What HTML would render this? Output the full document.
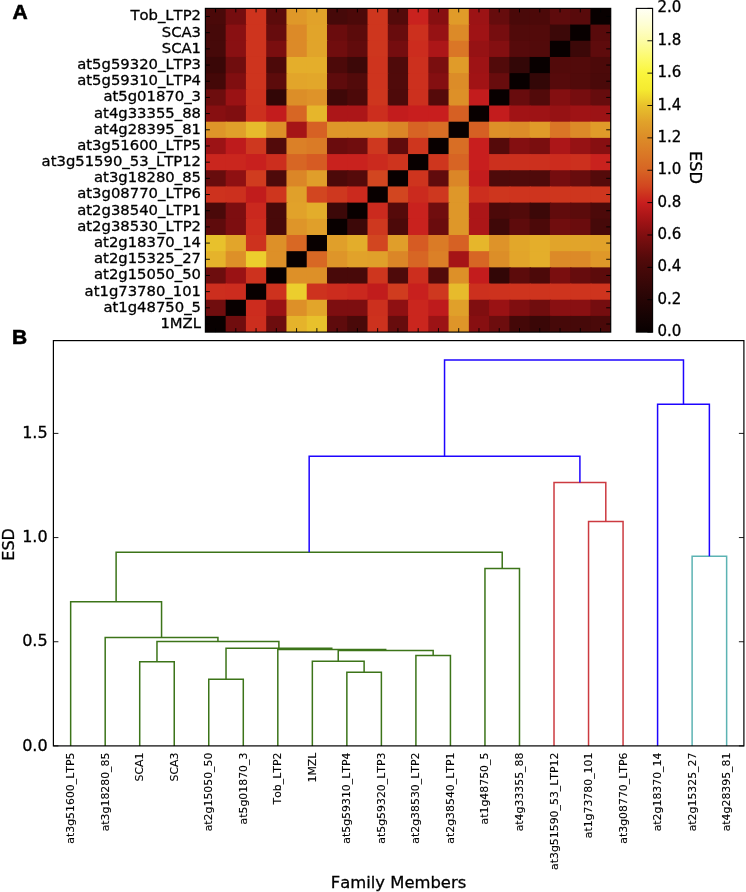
<!DOCTYPE html><html><head><meta charset="utf-8"><style>html,body{margin:0;padding:0;background:#fff;}svg{display:block;}text{font-family:"DejaVu Sans","Liberation Sans",sans-serif;fill:#000;font-kerning:none;stroke:#000;stroke-width:0.3px;}</style></head><body>
<svg width="746" height="892" viewBox="0 0 746 892">
<rect x="0" y="0" width="746" height="892" fill="#fff"/>
<text x="12.4" y="18.6" style="font-family:'Liberation Sans',sans-serif;font-weight:bold;font-size:21px;stroke:#000;stroke-width:0.6px">A</text>
<defs><clipPath id="hc"><rect x="205.40" y="8.40" width="405.30" height="323.70"/></clipPath></defs>
<g clip-path="url(#hc)"><rect x="205.40" y="8.40" width="21.47" height="17.39" fill="#4a0909"/><rect x="225.67" y="8.40" width="21.47" height="17.39" fill="#750d0f"/><rect x="245.93" y="8.40" width="21.47" height="17.39" fill="#ce341e"/><rect x="266.20" y="8.40" width="21.47" height="17.39" fill="#5c0b0b"/><rect x="286.46" y="8.40" width="21.47" height="17.39" fill="#df9829"/><rect x="306.73" y="8.40" width="21.47" height="17.39" fill="#e1a22a"/><rect x="326.99" y="8.40" width="21.47" height="17.39" fill="#460909"/><rect x="347.25" y="8.40" width="21.47" height="17.39" fill="#4c0909"/><rect x="367.52" y="8.40" width="21.47" height="17.39" fill="#ce361e"/><rect x="387.79" y="8.40" width="21.47" height="17.39" fill="#540a0a"/><rect x="408.05" y="8.40" width="21.47" height="17.39" fill="#c9221e"/><rect x="428.32" y="8.40" width="21.47" height="17.39" fill="#870f11"/><rect x="448.58" y="8.40" width="21.47" height="17.39" fill="#e09b29"/><rect x="468.85" y="8.40" width="21.47" height="17.39" fill="#9c1315"/><rect x="489.11" y="8.40" width="21.47" height="17.39" fill="#660c0d"/><rect x="509.38" y="8.40" width="21.47" height="17.39" fill="#4a0909"/><rect x="529.64" y="8.40" width="21.47" height="17.39" fill="#4c0909"/><rect x="549.91" y="8.40" width="21.47" height="17.39" fill="#5e0b0c"/><rect x="570.17" y="8.40" width="21.47" height="17.39" fill="#580a0b"/><rect x="590.44" y="8.40" width="21.47" height="17.39" fill="#080000"/><rect x="205.40" y="24.59" width="21.47" height="17.39" fill="#460909"/><rect x="225.67" y="24.59" width="21.47" height="17.39" fill="#891012"/><rect x="245.93" y="24.59" width="21.47" height="17.39" fill="#ce341e"/><rect x="266.20" y="24.59" width="21.47" height="17.39" fill="#660c0d"/><rect x="286.46" y="24.59" width="21.47" height="17.39" fill="#dc8a28"/><rect x="306.73" y="24.59" width="21.47" height="17.39" fill="#e1a42a"/><rect x="326.99" y="24.59" width="21.47" height="17.39" fill="#6a0c0d"/><rect x="347.25" y="24.59" width="21.47" height="17.39" fill="#5b0b0b"/><rect x="367.52" y="24.59" width="21.47" height="17.39" fill="#ce361e"/><rect x="387.79" y="24.59" width="21.47" height="17.39" fill="#680c0d"/><rect x="408.05" y="24.59" width="21.47" height="17.39" fill="#cc301e"/><rect x="428.32" y="24.59" width="21.47" height="17.39" fill="#961214"/><rect x="448.58" y="24.59" width="21.47" height="17.39" fill="#dc8a28"/><rect x="468.85" y="24.59" width="21.47" height="17.39" fill="#9f1315"/><rect x="489.11" y="24.59" width="21.47" height="17.39" fill="#760d0f"/><rect x="509.38" y="24.59" width="21.47" height="17.39" fill="#510a0a"/><rect x="529.64" y="24.59" width="21.47" height="17.39" fill="#520a0a"/><rect x="549.91" y="24.59" width="21.47" height="17.39" fill="#3c0808"/><rect x="570.17" y="24.59" width="21.47" height="17.39" fill="#080000"/><rect x="590.44" y="24.59" width="21.47" height="17.39" fill="#580a0b"/><rect x="205.40" y="40.77" width="21.47" height="17.39" fill="#460909"/><rect x="225.67" y="40.77" width="21.47" height="17.39" fill="#891012"/><rect x="245.93" y="40.77" width="21.47" height="17.39" fill="#ce341e"/><rect x="266.20" y="40.77" width="21.47" height="17.39" fill="#7a0e0f"/><rect x="286.46" y="40.77" width="21.47" height="17.39" fill="#dc8a28"/><rect x="306.73" y="40.77" width="21.47" height="17.39" fill="#e1a42a"/><rect x="326.99" y="40.77" width="21.47" height="17.39" fill="#700d0e"/><rect x="347.25" y="40.77" width="21.47" height="17.39" fill="#610b0c"/><rect x="367.52" y="40.77" width="21.47" height="17.39" fill="#ce361e"/><rect x="387.79" y="40.77" width="21.47" height="17.39" fill="#750d0f"/><rect x="408.05" y="40.77" width="21.47" height="17.39" fill="#cc2c1e"/><rect x="428.32" y="40.77" width="21.47" height="17.39" fill="#ac1618"/><rect x="448.58" y="40.77" width="21.47" height="17.39" fill="#da7626"/><rect x="468.85" y="40.77" width="21.47" height="17.39" fill="#961214"/><rect x="489.11" y="40.77" width="21.47" height="17.39" fill="#840f11"/><rect x="509.38" y="40.77" width="21.47" height="17.39" fill="#560a0b"/><rect x="529.64" y="40.77" width="21.47" height="17.39" fill="#520a0a"/><rect x="549.91" y="40.77" width="21.47" height="17.39" fill="#080000"/><rect x="570.17" y="40.77" width="21.47" height="17.39" fill="#3c0808"/><rect x="590.44" y="40.77" width="21.47" height="17.39" fill="#5e0b0c"/><rect x="205.40" y="56.96" width="21.47" height="17.39" fill="#3a0707"/><rect x="225.67" y="56.96" width="21.47" height="17.39" fill="#700d0e"/><rect x="245.93" y="56.96" width="21.47" height="17.39" fill="#ce341e"/><rect x="266.20" y="56.96" width="21.47" height="17.39" fill="#4c0909"/><rect x="286.46" y="56.96" width="21.47" height="17.39" fill="#e4ae2b"/><rect x="306.73" y="56.96" width="21.47" height="17.39" fill="#e4ae2b"/><rect x="326.99" y="56.96" width="21.47" height="17.39" fill="#4c0909"/><rect x="347.25" y="56.96" width="21.47" height="17.39" fill="#3c0808"/><rect x="367.52" y="56.96" width="21.47" height="17.39" fill="#ce341e"/><rect x="387.79" y="56.96" width="21.47" height="17.39" fill="#4f0a0a"/><rect x="408.05" y="56.96" width="21.47" height="17.39" fill="#cc301e"/><rect x="428.32" y="56.96" width="21.47" height="17.39" fill="#7a0e0f"/><rect x="448.58" y="56.96" width="21.47" height="17.39" fill="#e09b29"/><rect x="468.85" y="56.96" width="21.47" height="17.39" fill="#9e1315"/><rect x="489.11" y="56.96" width="21.47" height="17.39" fill="#520a0a"/><rect x="509.38" y="56.96" width="21.47" height="17.39" fill="#330707"/><rect x="529.64" y="56.96" width="21.47" height="17.39" fill="#080000"/><rect x="549.91" y="56.96" width="21.47" height="17.39" fill="#520a0a"/><rect x="570.17" y="56.96" width="21.47" height="17.39" fill="#520a0a"/><rect x="590.44" y="56.96" width="21.47" height="17.39" fill="#4c0909"/><rect x="205.40" y="73.14" width="21.47" height="17.39" fill="#440808"/><rect x="225.67" y="73.14" width="21.47" height="17.39" fill="#800e10"/><rect x="245.93" y="73.14" width="21.47" height="17.39" fill="#ce341e"/><rect x="266.20" y="73.14" width="21.47" height="17.39" fill="#5c0b0b"/><rect x="286.46" y="73.14" width="21.47" height="17.39" fill="#e2a52a"/><rect x="306.73" y="73.14" width="21.47" height="17.39" fill="#e2a72a"/><rect x="326.99" y="73.14" width="21.47" height="17.39" fill="#5e0b0c"/><rect x="347.25" y="73.14" width="21.47" height="17.39" fill="#520a0a"/><rect x="367.52" y="73.14" width="21.47" height="17.39" fill="#ce341e"/><rect x="387.79" y="73.14" width="21.47" height="17.39" fill="#500a0a"/><rect x="408.05" y="73.14" width="21.47" height="17.39" fill="#cc301e"/><rect x="428.32" y="73.14" width="21.47" height="17.39" fill="#840f11"/><rect x="448.58" y="73.14" width="21.47" height="17.39" fill="#dc8c28"/><rect x="468.85" y="73.14" width="21.47" height="17.39" fill="#a11315"/><rect x="489.11" y="73.14" width="21.47" height="17.39" fill="#680c0d"/><rect x="509.38" y="73.14" width="21.47" height="17.39" fill="#080000"/><rect x="529.64" y="73.14" width="21.47" height="17.39" fill="#330707"/><rect x="549.91" y="73.14" width="21.47" height="17.39" fill="#560a0b"/><rect x="570.17" y="73.14" width="21.47" height="17.39" fill="#510a0a"/><rect x="590.44" y="73.14" width="21.47" height="17.39" fill="#4a0909"/><rect x="205.40" y="89.33" width="21.47" height="17.39" fill="#6d0d0e"/><rect x="225.67" y="89.33" width="21.47" height="17.39" fill="#9a1214"/><rect x="245.93" y="89.33" width="21.47" height="17.39" fill="#cd321e"/><rect x="266.20" y="89.33" width="21.47" height="17.39" fill="#320606"/><rect x="286.46" y="89.33" width="21.47" height="17.39" fill="#dc8e28"/><rect x="306.73" y="89.33" width="21.47" height="17.39" fill="#de9329"/><rect x="326.99" y="89.33" width="21.47" height="17.39" fill="#3f0808"/><rect x="347.25" y="89.33" width="21.47" height="17.39" fill="#4c0909"/><rect x="367.52" y="89.33" width="21.47" height="17.39" fill="#ce361e"/><rect x="387.79" y="89.33" width="21.47" height="17.39" fill="#4e0a0a"/><rect x="408.05" y="89.33" width="21.47" height="17.39" fill="#cc301e"/><rect x="428.32" y="89.33" width="21.47" height="17.39" fill="#550a0a"/><rect x="448.58" y="89.33" width="21.47" height="17.39" fill="#dd9028"/><rect x="468.85" y="89.33" width="21.47" height="17.39" fill="#c31c1d"/><rect x="489.11" y="89.33" width="21.47" height="17.39" fill="#080000"/><rect x="509.38" y="89.33" width="21.47" height="17.39" fill="#680c0d"/><rect x="529.64" y="89.33" width="21.47" height="17.39" fill="#520a0a"/><rect x="549.91" y="89.33" width="21.47" height="17.39" fill="#840f11"/><rect x="570.17" y="89.33" width="21.47" height="17.39" fill="#760d0f"/><rect x="590.44" y="89.33" width="21.47" height="17.39" fill="#660c0d"/><rect x="205.40" y="105.51" width="21.47" height="17.39" fill="#870f11"/><rect x="225.67" y="105.51" width="21.47" height="17.39" fill="#800e10"/><rect x="245.93" y="105.51" width="21.47" height="17.39" fill="#cc301e"/><rect x="266.20" y="105.51" width="21.47" height="17.39" fill="#c31c1d"/><rect x="286.46" y="105.51" width="21.47" height="17.39" fill="#d76624"/><rect x="306.73" y="105.51" width="21.47" height="17.39" fill="#e6b62b"/><rect x="326.99" y="105.51" width="21.47" height="17.39" fill="#ac1618"/><rect x="347.25" y="105.51" width="21.47" height="17.39" fill="#ac1618"/><rect x="367.52" y="105.51" width="21.47" height="17.39" fill="#cc2e1e"/><rect x="387.79" y="105.51" width="21.47" height="17.39" fill="#c31c1d"/><rect x="408.05" y="105.51" width="21.47" height="17.39" fill="#c81e1e"/><rect x="428.32" y="105.51" width="21.47" height="17.39" fill="#c81e1e"/><rect x="448.58" y="105.51" width="21.47" height="17.39" fill="#d66023"/><rect x="468.85" y="105.51" width="21.47" height="17.39" fill="#080000"/><rect x="489.11" y="105.51" width="21.47" height="17.39" fill="#c31c1d"/><rect x="509.38" y="105.51" width="21.47" height="17.39" fill="#a11315"/><rect x="529.64" y="105.51" width="21.47" height="17.39" fill="#9e1315"/><rect x="549.91" y="105.51" width="21.47" height="17.39" fill="#961214"/><rect x="570.17" y="105.51" width="21.47" height="17.39" fill="#9f1315"/><rect x="590.44" y="105.51" width="21.47" height="17.39" fill="#9c1315"/><rect x="205.40" y="121.70" width="21.47" height="17.39" fill="#de9529"/><rect x="225.67" y="121.70" width="21.47" height="17.39" fill="#e0a02a"/><rect x="245.93" y="121.70" width="21.47" height="17.39" fill="#e7bb2c"/><rect x="266.20" y="121.70" width="21.47" height="17.39" fill="#dd9028"/><rect x="286.46" y="121.70" width="21.47" height="17.39" fill="#a51416"/><rect x="306.73" y="121.70" width="21.47" height="17.39" fill="#d66124"/><rect x="326.99" y="121.70" width="21.47" height="17.39" fill="#de9729"/><rect x="347.25" y="121.70" width="21.47" height="17.39" fill="#de9729"/><rect x="367.52" y="121.70" width="21.47" height="17.39" fill="#de9729"/><rect x="387.79" y="121.70" width="21.47" height="17.39" fill="#db8627"/><rect x="408.05" y="121.70" width="21.47" height="17.39" fill="#d76424"/><rect x="428.32" y="121.70" width="21.47" height="17.39" fill="#d86e25"/><rect x="448.58" y="121.70" width="21.47" height="17.39" fill="#080000"/><rect x="468.85" y="121.70" width="21.47" height="17.39" fill="#d66023"/><rect x="489.11" y="121.70" width="21.47" height="17.39" fill="#dd9028"/><rect x="509.38" y="121.70" width="21.47" height="17.39" fill="#dc8c28"/><rect x="529.64" y="121.70" width="21.47" height="17.39" fill="#e09b29"/><rect x="549.91" y="121.70" width="21.47" height="17.39" fill="#da7626"/><rect x="570.17" y="121.70" width="21.47" height="17.39" fill="#dc8a28"/><rect x="590.44" y="121.70" width="21.47" height="17.39" fill="#e09b29"/><rect x="205.40" y="137.88" width="21.47" height="17.39" fill="#9c1315"/><rect x="225.67" y="137.88" width="21.47" height="17.39" fill="#be1b1c"/><rect x="245.93" y="137.88" width="21.47" height="17.39" fill="#ce381f"/><rect x="266.20" y="137.88" width="21.47" height="17.39" fill="#520a0a"/><rect x="286.46" y="137.88" width="21.47" height="17.39" fill="#db8027"/><rect x="306.73" y="137.88" width="21.47" height="17.39" fill="#da7b26"/><rect x="326.99" y="137.88" width="21.47" height="17.39" fill="#6a0c0d"/><rect x="347.25" y="137.88" width="21.47" height="17.39" fill="#700d0e"/><rect x="367.52" y="137.88" width="21.47" height="17.39" fill="#ce381f"/><rect x="387.79" y="137.88" width="21.47" height="17.39" fill="#610b0c"/><rect x="408.05" y="137.88" width="21.47" height="17.39" fill="#ce361e"/><rect x="428.32" y="137.88" width="21.47" height="17.39" fill="#080000"/><rect x="448.58" y="137.88" width="21.47" height="17.39" fill="#d86e25"/><rect x="468.85" y="137.88" width="21.47" height="17.39" fill="#c81e1e"/><rect x="489.11" y="137.88" width="21.47" height="17.39" fill="#550a0a"/><rect x="509.38" y="137.88" width="21.47" height="17.39" fill="#840f11"/><rect x="529.64" y="137.88" width="21.47" height="17.39" fill="#7a0e0f"/><rect x="549.91" y="137.88" width="21.47" height="17.39" fill="#ac1618"/><rect x="570.17" y="137.88" width="21.47" height="17.39" fill="#961214"/><rect x="590.44" y="137.88" width="21.47" height="17.39" fill="#870f11"/><rect x="205.40" y="154.07" width="21.47" height="17.39" fill="#ca261e"/><rect x="225.67" y="154.07" width="21.47" height="17.39" fill="#ca261e"/><rect x="245.93" y="154.07" width="21.47" height="17.39" fill="#c8201e"/><rect x="266.20" y="154.07" width="21.47" height="17.39" fill="#cc2e1e"/><rect x="286.46" y="154.07" width="21.47" height="17.39" fill="#d76624"/><rect x="306.73" y="154.07" width="21.47" height="17.39" fill="#d65b23"/><rect x="326.99" y="154.07" width="21.47" height="17.39" fill="#c9221e"/><rect x="347.25" y="154.07" width="21.47" height="17.39" fill="#c9221e"/><rect x="367.52" y="154.07" width="21.47" height="17.39" fill="#cb2a1e"/><rect x="387.79" y="154.07" width="21.47" height="17.39" fill="#ce341e"/><rect x="408.05" y="154.07" width="21.47" height="17.39" fill="#080000"/><rect x="428.32" y="154.07" width="21.47" height="17.39" fill="#ce361e"/><rect x="448.58" y="154.07" width="21.47" height="17.39" fill="#d76424"/><rect x="468.85" y="154.07" width="21.47" height="17.39" fill="#c81e1e"/><rect x="489.11" y="154.07" width="21.47" height="17.39" fill="#cc301e"/><rect x="509.38" y="154.07" width="21.47" height="17.39" fill="#cc301e"/><rect x="529.64" y="154.07" width="21.47" height="17.39" fill="#cc301e"/><rect x="549.91" y="154.07" width="21.47" height="17.39" fill="#cc2c1e"/><rect x="570.17" y="154.07" width="21.47" height="17.39" fill="#cc301e"/><rect x="590.44" y="154.07" width="21.47" height="17.39" fill="#c9221e"/><rect x="205.40" y="170.25" width="21.47" height="17.39" fill="#670c0d"/><rect x="225.67" y="170.25" width="21.47" height="17.39" fill="#8f1012"/><rect x="245.93" y="170.25" width="21.47" height="17.39" fill="#d03c1f"/><rect x="266.20" y="170.25" width="21.47" height="17.39" fill="#4e0a0a"/><rect x="286.46" y="170.25" width="21.47" height="17.39" fill="#db8627"/><rect x="306.73" y="170.25" width="21.47" height="17.39" fill="#e09e2a"/><rect x="326.99" y="170.25" width="21.47" height="17.39" fill="#4c0909"/><rect x="347.25" y="170.25" width="21.47" height="17.39" fill="#550a0a"/><rect x="367.52" y="170.25" width="21.47" height="17.39" fill="#d24620"/><rect x="387.79" y="170.25" width="21.47" height="17.39" fill="#080000"/><rect x="408.05" y="170.25" width="21.47" height="17.39" fill="#ce341e"/><rect x="428.32" y="170.25" width="21.47" height="17.39" fill="#610b0c"/><rect x="448.58" y="170.25" width="21.47" height="17.39" fill="#db8627"/><rect x="468.85" y="170.25" width="21.47" height="17.39" fill="#c31c1d"/><rect x="489.11" y="170.25" width="21.47" height="17.39" fill="#4e0a0a"/><rect x="509.38" y="170.25" width="21.47" height="17.39" fill="#500a0a"/><rect x="529.64" y="170.25" width="21.47" height="17.39" fill="#4f0a0a"/><rect x="549.91" y="170.25" width="21.47" height="17.39" fill="#750d0f"/><rect x="570.17" y="170.25" width="21.47" height="17.39" fill="#680c0d"/><rect x="590.44" y="170.25" width="21.47" height="17.39" fill="#540a0a"/><rect x="205.40" y="186.44" width="21.47" height="17.39" fill="#cd321e"/><rect x="225.67" y="186.44" width="21.47" height="17.39" fill="#cc301e"/><rect x="245.93" y="186.44" width="21.47" height="17.39" fill="#c11c1c"/><rect x="266.20" y="186.44" width="21.47" height="17.39" fill="#ce361e"/><rect x="286.46" y="186.44" width="21.47" height="17.39" fill="#e0a02a"/><rect x="306.73" y="186.44" width="21.47" height="17.39" fill="#d24620"/><rect x="326.99" y="186.44" width="21.47" height="17.39" fill="#ce381f"/><rect x="347.25" y="186.44" width="21.47" height="17.39" fill="#cb2a1e"/><rect x="367.52" y="186.44" width="21.47" height="17.39" fill="#080000"/><rect x="387.79" y="186.44" width="21.47" height="17.39" fill="#d24620"/><rect x="408.05" y="186.44" width="21.47" height="17.39" fill="#cb2a1e"/><rect x="428.32" y="186.44" width="21.47" height="17.39" fill="#ce381f"/><rect x="448.58" y="186.44" width="21.47" height="17.39" fill="#de9729"/><rect x="468.85" y="186.44" width="21.47" height="17.39" fill="#cc2e1e"/><rect x="489.11" y="186.44" width="21.47" height="17.39" fill="#ce361e"/><rect x="509.38" y="186.44" width="21.47" height="17.39" fill="#ce341e"/><rect x="529.64" y="186.44" width="21.47" height="17.39" fill="#ce341e"/><rect x="549.91" y="186.44" width="21.47" height="17.39" fill="#ce361e"/><rect x="570.17" y="186.44" width="21.47" height="17.39" fill="#ce361e"/><rect x="590.44" y="186.44" width="21.47" height="17.39" fill="#ce361e"/><rect x="205.40" y="202.62" width="21.47" height="17.39" fill="#4a0909"/><rect x="225.67" y="202.62" width="21.47" height="17.39" fill="#7d0e10"/><rect x="245.93" y="202.62" width="21.47" height="17.39" fill="#ca281e"/><rect x="266.20" y="202.62" width="21.47" height="17.39" fill="#480909"/><rect x="286.46" y="202.62" width="21.47" height="17.39" fill="#e1a22a"/><rect x="306.73" y="202.62" width="21.47" height="17.39" fill="#e3ad2b"/><rect x="326.99" y="202.62" width="21.47" height="17.39" fill="#3c0808"/><rect x="347.25" y="202.62" width="21.47" height="17.39" fill="#080000"/><rect x="367.52" y="202.62" width="21.47" height="17.39" fill="#cb2a1e"/><rect x="387.79" y="202.62" width="21.47" height="17.39" fill="#550a0a"/><rect x="408.05" y="202.62" width="21.47" height="17.39" fill="#c9221e"/><rect x="428.32" y="202.62" width="21.47" height="17.39" fill="#700d0e"/><rect x="448.58" y="202.62" width="21.47" height="17.39" fill="#de9729"/><rect x="468.85" y="202.62" width="21.47" height="17.39" fill="#ac1618"/><rect x="489.11" y="202.62" width="21.47" height="17.39" fill="#4c0909"/><rect x="509.38" y="202.62" width="21.47" height="17.39" fill="#520a0a"/><rect x="529.64" y="202.62" width="21.47" height="17.39" fill="#3c0808"/><rect x="549.91" y="202.62" width="21.47" height="17.39" fill="#610b0c"/><rect x="570.17" y="202.62" width="21.47" height="17.39" fill="#5b0b0b"/><rect x="590.44" y="202.62" width="21.47" height="17.39" fill="#4c0909"/><rect x="205.40" y="218.81" width="21.47" height="17.39" fill="#5e0b0c"/><rect x="225.67" y="218.81" width="21.47" height="17.39" fill="#7d0e10"/><rect x="245.93" y="218.81" width="21.47" height="17.39" fill="#cc2c1e"/><rect x="266.20" y="218.81" width="21.47" height="17.39" fill="#480909"/><rect x="286.46" y="218.81" width="21.47" height="17.39" fill="#de9529"/><rect x="306.73" y="218.81" width="21.47" height="17.39" fill="#e09f2a"/><rect x="326.99" y="218.81" width="21.47" height="17.39" fill="#080000"/><rect x="347.25" y="218.81" width="21.47" height="17.39" fill="#3c0808"/><rect x="367.52" y="218.81" width="21.47" height="17.39" fill="#ce381f"/><rect x="387.79" y="218.81" width="21.47" height="17.39" fill="#4c0909"/><rect x="408.05" y="218.81" width="21.47" height="17.39" fill="#c9221e"/><rect x="428.32" y="218.81" width="21.47" height="17.39" fill="#6a0c0d"/><rect x="448.58" y="218.81" width="21.47" height="17.39" fill="#de9729"/><rect x="468.85" y="218.81" width="21.47" height="17.39" fill="#ac1618"/><rect x="489.11" y="218.81" width="21.47" height="17.39" fill="#3f0808"/><rect x="509.38" y="218.81" width="21.47" height="17.39" fill="#5e0b0c"/><rect x="529.64" y="218.81" width="21.47" height="17.39" fill="#4c0909"/><rect x="549.91" y="218.81" width="21.47" height="17.39" fill="#700d0e"/><rect x="570.17" y="218.81" width="21.47" height="17.39" fill="#6a0c0d"/><rect x="590.44" y="218.81" width="21.47" height="17.39" fill="#460909"/><rect x="205.40" y="234.99" width="21.47" height="17.39" fill="#e8c12c"/><rect x="225.67" y="234.99" width="21.47" height="17.39" fill="#e2a52a"/><rect x="245.93" y="234.99" width="21.47" height="17.39" fill="#cd321e"/><rect x="266.20" y="234.99" width="21.47" height="17.39" fill="#dd9028"/><rect x="286.46" y="234.99" width="21.47" height="17.39" fill="#d86824"/><rect x="306.73" y="234.99" width="21.47" height="17.39" fill="#080000"/><rect x="326.99" y="234.99" width="21.47" height="17.39" fill="#e09f2a"/><rect x="347.25" y="234.99" width="21.47" height="17.39" fill="#e3ad2b"/><rect x="367.52" y="234.99" width="21.47" height="17.39" fill="#d24620"/><rect x="387.79" y="234.99" width="21.47" height="17.39" fill="#e09e2a"/><rect x="408.05" y="234.99" width="21.47" height="17.39" fill="#d65b23"/><rect x="428.32" y="234.99" width="21.47" height="17.39" fill="#da7b26"/><rect x="448.58" y="234.99" width="21.47" height="17.39" fill="#d66124"/><rect x="468.85" y="234.99" width="21.47" height="17.39" fill="#e6b62b"/><rect x="489.11" y="234.99" width="21.47" height="17.39" fill="#de9329"/><rect x="509.38" y="234.99" width="21.47" height="17.39" fill="#e2a72a"/><rect x="529.64" y="234.99" width="21.47" height="17.39" fill="#e4ae2b"/><rect x="549.91" y="234.99" width="21.47" height="17.39" fill="#e1a42a"/><rect x="570.17" y="234.99" width="21.47" height="17.39" fill="#e1a42a"/><rect x="590.44" y="234.99" width="21.47" height="17.39" fill="#e1a22a"/><rect x="205.40" y="251.18" width="21.47" height="17.39" fill="#e5b32b"/><rect x="225.67" y="251.18" width="21.47" height="17.39" fill="#dd9028"/><rect x="245.93" y="251.18" width="21.47" height="17.39" fill="#ecce2d"/><rect x="266.20" y="251.18" width="21.47" height="17.39" fill="#dd9028"/><rect x="286.46" y="251.18" width="21.47" height="17.39" fill="#080000"/><rect x="306.73" y="251.18" width="21.47" height="17.39" fill="#d86824"/><rect x="326.99" y="251.18" width="21.47" height="17.39" fill="#de9529"/><rect x="347.25" y="251.18" width="21.47" height="17.39" fill="#e1a22a"/><rect x="367.52" y="251.18" width="21.47" height="17.39" fill="#e0a02a"/><rect x="387.79" y="251.18" width="21.47" height="17.39" fill="#db8627"/><rect x="408.05" y="251.18" width="21.47" height="17.39" fill="#d76624"/><rect x="428.32" y="251.18" width="21.47" height="17.39" fill="#db8027"/><rect x="448.58" y="251.18" width="21.47" height="17.39" fill="#a51416"/><rect x="468.85" y="251.18" width="21.47" height="17.39" fill="#d76624"/><rect x="489.11" y="251.18" width="21.47" height="17.39" fill="#dc8e28"/><rect x="509.38" y="251.18" width="21.47" height="17.39" fill="#e2a52a"/><rect x="529.64" y="251.18" width="21.47" height="17.39" fill="#e4ae2b"/><rect x="549.91" y="251.18" width="21.47" height="17.39" fill="#dc8a28"/><rect x="570.17" y="251.18" width="21.47" height="17.39" fill="#dc8a28"/><rect x="590.44" y="251.18" width="21.47" height="17.39" fill="#df9829"/><rect x="205.40" y="267.36" width="21.47" height="17.39" fill="#6d0d0e"/><rect x="225.67" y="267.36" width="21.47" height="17.39" fill="#9a1214"/><rect x="245.93" y="267.36" width="21.47" height="17.39" fill="#cd321e"/><rect x="266.20" y="267.36" width="21.47" height="17.39" fill="#080000"/><rect x="286.46" y="267.36" width="21.47" height="17.39" fill="#dd9028"/><rect x="306.73" y="267.36" width="21.47" height="17.39" fill="#dd9028"/><rect x="326.99" y="267.36" width="21.47" height="17.39" fill="#480909"/><rect x="347.25" y="267.36" width="21.47" height="17.39" fill="#480909"/><rect x="367.52" y="267.36" width="21.47" height="17.39" fill="#ce361e"/><rect x="387.79" y="267.36" width="21.47" height="17.39" fill="#4e0a0a"/><rect x="408.05" y="267.36" width="21.47" height="17.39" fill="#cc2e1e"/><rect x="428.32" y="267.36" width="21.47" height="17.39" fill="#520a0a"/><rect x="448.58" y="267.36" width="21.47" height="17.39" fill="#dd9028"/><rect x="468.85" y="267.36" width="21.47" height="17.39" fill="#c31c1d"/><rect x="489.11" y="267.36" width="21.47" height="17.39" fill="#320606"/><rect x="509.38" y="267.36" width="21.47" height="17.39" fill="#5c0b0b"/><rect x="529.64" y="267.36" width="21.47" height="17.39" fill="#4c0909"/><rect x="549.91" y="267.36" width="21.47" height="17.39" fill="#7a0e0f"/><rect x="570.17" y="267.36" width="21.47" height="17.39" fill="#660c0d"/><rect x="590.44" y="267.36" width="21.47" height="17.39" fill="#5c0b0b"/><rect x="205.40" y="283.55" width="21.47" height="17.39" fill="#cc2e1e"/><rect x="225.67" y="283.55" width="21.47" height="17.39" fill="#cc2c1e"/><rect x="245.93" y="283.55" width="21.47" height="17.39" fill="#080000"/><rect x="266.20" y="283.55" width="21.47" height="17.39" fill="#cd321e"/><rect x="286.46" y="283.55" width="21.47" height="17.39" fill="#ecce2d"/><rect x="306.73" y="283.55" width="21.47" height="17.39" fill="#cd321e"/><rect x="326.99" y="283.55" width="21.47" height="17.39" fill="#cc2c1e"/><rect x="347.25" y="283.55" width="21.47" height="17.39" fill="#ca281e"/><rect x="367.52" y="283.55" width="21.47" height="17.39" fill="#c11c1c"/><rect x="387.79" y="283.55" width="21.47" height="17.39" fill="#d03c1f"/><rect x="408.05" y="283.55" width="21.47" height="17.39" fill="#c8201e"/><rect x="428.32" y="283.55" width="21.47" height="17.39" fill="#ce381f"/><rect x="448.58" y="283.55" width="21.47" height="17.39" fill="#e7bb2c"/><rect x="468.85" y="283.55" width="21.47" height="17.39" fill="#cc301e"/><rect x="489.11" y="283.55" width="21.47" height="17.39" fill="#cd321e"/><rect x="509.38" y="283.55" width="21.47" height="17.39" fill="#ce341e"/><rect x="529.64" y="283.55" width="21.47" height="17.39" fill="#ce341e"/><rect x="549.91" y="283.55" width="21.47" height="17.39" fill="#ce341e"/><rect x="570.17" y="283.55" width="21.47" height="17.39" fill="#ce341e"/><rect x="590.44" y="283.55" width="21.47" height="17.39" fill="#ce341e"/><rect x="205.40" y="299.73" width="21.47" height="17.39" fill="#700d0e"/><rect x="225.67" y="299.73" width="21.47" height="17.39" fill="#080000"/><rect x="245.93" y="299.73" width="21.47" height="17.39" fill="#cc2c1e"/><rect x="266.20" y="299.73" width="21.47" height="17.39" fill="#9a1214"/><rect x="286.46" y="299.73" width="21.47" height="17.39" fill="#dd9028"/><rect x="306.73" y="299.73" width="21.47" height="17.39" fill="#e2a52a"/><rect x="326.99" y="299.73" width="21.47" height="17.39" fill="#7d0e10"/><rect x="347.25" y="299.73" width="21.47" height="17.39" fill="#7d0e10"/><rect x="367.52" y="299.73" width="21.47" height="17.39" fill="#cc301e"/><rect x="387.79" y="299.73" width="21.47" height="17.39" fill="#8f1012"/><rect x="408.05" y="299.73" width="21.47" height="17.39" fill="#ca261e"/><rect x="428.32" y="299.73" width="21.47" height="17.39" fill="#be1b1c"/><rect x="448.58" y="299.73" width="21.47" height="17.39" fill="#e0a02a"/><rect x="468.85" y="299.73" width="21.47" height="17.39" fill="#800e10"/><rect x="489.11" y="299.73" width="21.47" height="17.39" fill="#9a1214"/><rect x="509.38" y="299.73" width="21.47" height="17.39" fill="#800e10"/><rect x="529.64" y="299.73" width="21.47" height="17.39" fill="#700d0e"/><rect x="549.91" y="299.73" width="21.47" height="17.39" fill="#891012"/><rect x="570.17" y="299.73" width="21.47" height="17.39" fill="#891012"/><rect x="590.44" y="299.73" width="21.47" height="17.39" fill="#750d0f"/><rect x="205.40" y="315.92" width="21.47" height="17.39" fill="#080000"/><rect x="225.67" y="315.92" width="21.47" height="17.39" fill="#700d0e"/><rect x="245.93" y="315.92" width="21.47" height="17.39" fill="#cc2e1e"/><rect x="266.20" y="315.92" width="21.47" height="17.39" fill="#6d0d0e"/><rect x="286.46" y="315.92" width="21.47" height="17.39" fill="#e5b32b"/><rect x="306.73" y="315.92" width="21.47" height="17.39" fill="#e8c12c"/><rect x="326.99" y="315.92" width="21.47" height="17.39" fill="#5e0b0c"/><rect x="347.25" y="315.92" width="21.47" height="17.39" fill="#4a0909"/><rect x="367.52" y="315.92" width="21.47" height="17.39" fill="#cd321e"/><rect x="387.79" y="315.92" width="21.47" height="17.39" fill="#670c0d"/><rect x="408.05" y="315.92" width="21.47" height="17.39" fill="#ca261e"/><rect x="428.32" y="315.92" width="21.47" height="17.39" fill="#9c1315"/><rect x="448.58" y="315.92" width="21.47" height="17.39" fill="#de9529"/><rect x="468.85" y="315.92" width="21.47" height="17.39" fill="#870f11"/><rect x="489.11" y="315.92" width="21.47" height="17.39" fill="#6d0d0e"/><rect x="509.38" y="315.92" width="21.47" height="17.39" fill="#440808"/><rect x="529.64" y="315.92" width="21.47" height="17.39" fill="#3a0707"/><rect x="549.91" y="315.92" width="21.47" height="17.39" fill="#460909"/><rect x="570.17" y="315.92" width="21.47" height="17.39" fill="#460909"/><rect x="590.44" y="315.92" width="21.47" height="17.39" fill="#4a0909"/></g>
<path d="M215.53 8.40v4M215.53 332.10v-4M205.40 16.49h4.5M610.70 16.49h-4.5M235.80 8.40v4M235.80 332.10v-4M205.40 32.68h4.5M610.70 32.68h-4.5M256.06 8.40v4M256.06 332.10v-4M205.40 48.86h4.5M610.70 48.86h-4.5M276.33 8.40v4M276.33 332.10v-4M205.40 65.05h4.5M610.70 65.05h-4.5M296.59 8.40v4M296.59 332.10v-4M205.40 81.23h4.5M610.70 81.23h-4.5M316.86 8.40v4M316.86 332.10v-4M205.40 97.42h4.5M610.70 97.42h-4.5M337.12 8.40v4M337.12 332.10v-4M205.40 113.60h4.5M610.70 113.60h-4.5M357.39 8.40v4M357.39 332.10v-4M205.40 129.79h4.5M610.70 129.79h-4.5M377.65 8.40v4M377.65 332.10v-4M205.40 145.97h4.5M610.70 145.97h-4.5M397.92 8.40v4M397.92 332.10v-4M205.40 162.16h4.5M610.70 162.16h-4.5M418.18 8.40v4M418.18 332.10v-4M205.40 178.34h4.5M610.70 178.34h-4.5M438.45 8.40v4M438.45 332.10v-4M205.40 194.53h4.5M610.70 194.53h-4.5M458.71 8.40v4M458.71 332.10v-4M205.40 210.71h4.5M610.70 210.71h-4.5M478.98 8.40v4M478.98 332.10v-4M205.40 226.90h4.5M610.70 226.90h-4.5M499.24 8.40v4M499.24 332.10v-4M205.40 243.08h4.5M610.70 243.08h-4.5M519.51 8.40v4M519.51 332.10v-4M205.40 259.27h4.5M610.70 259.27h-4.5M539.77 8.40v4M539.77 332.10v-4M205.40 275.45h4.5M610.70 275.45h-4.5M560.04 8.40v4M560.04 332.10v-4M205.40 291.64h4.5M610.70 291.64h-4.5M580.30 8.40v4M580.30 332.10v-4M205.40 307.82h4.5M610.70 307.82h-4.5M600.57 8.40v4M600.57 332.10v-4M205.40 324.01h4.5M610.70 324.01h-4.5" stroke="#000" stroke-width="0.9" fill="none"/>
<rect x="205.40" y="8.40" width="405.30" height="323.70" fill="none" stroke="#000" stroke-width="1.2"/>
<text x="201.0" y="20.39" text-anchor="end" style="font-size:14.8px">Tob_LTP2</text><text x="201.0" y="36.58" text-anchor="end" style="font-size:14.8px">SCA3</text><text x="201.0" y="52.76" text-anchor="end" style="font-size:14.8px">SCA1</text><text x="201.0" y="68.95" text-anchor="end" style="font-size:14.8px">at5g59320_LTP3</text><text x="201.0" y="85.13" text-anchor="end" style="font-size:14.8px">at5g59310_LTP4</text><text x="201.0" y="101.32" text-anchor="end" style="font-size:14.8px">at5g01870_3</text><text x="201.0" y="117.50" text-anchor="end" style="font-size:14.8px">at4g33355_88</text><text x="201.0" y="133.69" text-anchor="end" style="font-size:14.8px">at4g28395_81</text><text x="201.0" y="149.87" text-anchor="end" style="font-size:14.8px">at3g51600_LTP5</text><text x="201.0" y="166.06" text-anchor="end" style="font-size:14.8px">at3g51590_53_LTP12</text><text x="201.0" y="182.24" text-anchor="end" style="font-size:14.8px">at3g18280_85</text><text x="201.0" y="198.43" text-anchor="end" style="font-size:14.8px">at3g08770_LTP6</text><text x="201.0" y="214.61" text-anchor="end" style="font-size:14.8px">at2g38540_LTP1</text><text x="201.0" y="230.80" text-anchor="end" style="font-size:14.8px">at2g38530_LTP2</text><text x="201.0" y="246.98" text-anchor="end" style="font-size:14.8px">at2g18370_14</text><text x="201.0" y="263.17" text-anchor="end" style="font-size:14.8px">at2g15325_27</text><text x="201.0" y="279.35" text-anchor="end" style="font-size:14.8px">at2g15050_50</text><text x="201.0" y="295.54" text-anchor="end" style="font-size:14.8px">at1g73780_101</text><text x="201.0" y="311.72" text-anchor="end" style="font-size:14.8px">at1g48750_5</text><text x="201.0" y="327.91" text-anchor="end" style="font-size:14.8px">1MZL</text>
<defs><linearGradient id="cb" x1="0" y1="1" x2="0" y2="0"><stop offset="0.0000" stop-color="#080000"/><stop offset="0.0250" stop-color="#0f0202"/><stop offset="0.0500" stop-color="#160303"/><stop offset="0.0750" stop-color="#1e0404"/><stop offset="0.1000" stop-color="#260505"/><stop offset="0.1250" stop-color="#2e0606"/><stop offset="0.1500" stop-color="#370707"/><stop offset="0.1750" stop-color="#400808"/><stop offset="0.2000" stop-color="#480909"/><stop offset="0.2250" stop-color="#520a0a"/><stop offset="0.2500" stop-color="#610b0c"/><stop offset="0.2750" stop-color="#700d0e"/><stop offset="0.3000" stop-color="#800e10"/><stop offset="0.3250" stop-color="#931113"/><stop offset="0.3500" stop-color="#a51416"/><stop offset="0.3750" stop-color="#b6191a"/><stop offset="0.4000" stop-color="#c81e1e"/><stop offset="0.4250" stop-color="#cd321e"/><stop offset="0.4500" stop-color="#d24620"/><stop offset="0.4750" stop-color="#d45522"/><stop offset="0.5000" stop-color="#d76424"/><stop offset="0.5250" stop-color="#d86e25"/><stop offset="0.5500" stop-color="#da7826"/><stop offset="0.5750" stop-color="#db8227"/><stop offset="0.6000" stop-color="#dc8c28"/><stop offset="0.6250" stop-color="#de9729"/><stop offset="0.6500" stop-color="#e1a22a"/><stop offset="0.6750" stop-color="#e4b22b"/><stop offset="0.7000" stop-color="#e8c12c"/><stop offset="0.7250" stop-color="#efd62e"/><stop offset="0.7500" stop-color="#f5eb30"/><stop offset="0.7750" stop-color="#f8f036"/><stop offset="0.8000" stop-color="#faf53c"/><stop offset="0.8250" stop-color="#fbf855"/><stop offset="0.8500" stop-color="#fcfa6e"/><stop offset="0.8750" stop-color="#fcfb8a"/><stop offset="0.9000" stop-color="#fdfca5"/><stop offset="0.9250" stop-color="#fefdbc"/><stop offset="0.9500" stop-color="#fefed2"/><stop offset="0.9750" stop-color="#fefee4"/><stop offset="1.0000" stop-color="#fffff5"/></linearGradient></defs>
<rect x="636.3" y="8.4" width="16.30" height="323.70" fill="url(#cb)"/>
<path d="M647.40 332.10h5.2M647.40 299.73h5.2M647.40 267.36h5.2M647.40 234.99h5.2M647.40 202.62h5.2M647.40 170.25h5.2M647.40 137.88h5.2M647.40 105.51h5.2M647.40 73.14h5.2M647.40 40.77h5.2M647.40 8.40h5.2" stroke="#000" stroke-width="0.9" fill="none"/>
<rect x="636.3" y="8.4" width="16.30" height="323.70" fill="none" stroke="#000" stroke-width="1.1"/>
<text x="657.4" y="336.10" style="font-size:15px">0.0</text><text x="657.4" y="303.73" style="font-size:15px">0.2</text><text x="657.4" y="271.36" style="font-size:15px">0.4</text><text x="657.4" y="238.99" style="font-size:15px">0.6</text><text x="657.4" y="206.62" style="font-size:15px">0.8</text><text x="657.4" y="174.25" style="font-size:15px">1.0</text><text x="657.4" y="141.88" style="font-size:15px">1.2</text><text x="657.4" y="109.51" style="font-size:15px">1.4</text><text x="657.4" y="77.14" style="font-size:15px">1.6</text><text x="657.4" y="44.77" style="font-size:15px">1.8</text><text x="657.4" y="12.40" style="font-size:15px">2.0</text>
<text transform="translate(689.6,167.4) rotate(90)" text-anchor="middle" style="font-size:16.2px">ESD</text>
<text x="12.0" y="343.8" style="font-family:'Liberation Sans',sans-serif;font-weight:bold;font-size:21px;stroke:#000;stroke-width:0.6px">B</text>
<g fill="none" stroke-width="1.5"><path d="M139.71 745.90V661.80H174.24V745.90" stroke="#3c7419"/><path d="M208.76 745.90V679.30H243.29V745.90" stroke="#3c7419"/><path d="M346.86 745.90V672.20H381.39V745.90" stroke="#3c7419"/><path d="M312.34 745.90V661.20H364.12V672.20" stroke="#3c7419"/><path d="M415.91 745.90V655.50H450.44V745.90" stroke="#3c7419"/><path d="M338.23 661.20V650.50H433.17V655.50" stroke="#3c7419"/><path d="M277.81 745.90V649.40H385.70V650.50" stroke="#3c7419"/><path d="M226.02 679.30V648.20H331.76V649.40" stroke="#3c7419"/><path d="M156.97 661.80V641.60H278.89V648.20" stroke="#3c7419"/><path d="M105.19 745.90V637.50H217.93V641.60" stroke="#3c7419"/><path d="M70.66 745.90V601.80H161.56V637.50" stroke="#3c7419"/><path d="M484.96 745.90V568.60H519.49V745.90" stroke="#3c7419"/><path d="M116.11 601.80V552.20H502.22V568.60" stroke="#3c7419"/><path d="M588.54 745.90V521.40H623.06V745.90" stroke="#cc3a40"/><path d="M554.01 745.90V482.50H605.80V521.40" stroke="#cc3a40"/><path d="M692.11 745.90V556.30H726.64V745.90" stroke="#5cb3b3"/><path d="M309.17 552.20V456.30H579.91V482.50" stroke="#1e05ff"/><path d="M657.59 745.90V404.20H709.38V556.30" stroke="#1e05ff"/><path d="M444.54 456.30V360.00H683.48V404.20" stroke="#1e05ff"/></g>
<path d="M53.40 745.90h5M743.90 745.90h-5M53.40 641.74h5M743.90 641.74h-5M53.40 537.57h5M743.90 537.57h-5M53.40 433.40h5M743.90 433.40h-5" stroke="#000" stroke-width="0.9" fill="none"/>
<rect x="53.4" y="340.6" width="690.50" height="405.30" fill="none" stroke="#000" stroke-width="1.2"/>
<text x="47.6" y="750.60" text-anchor="end" style="font-size:16px">0.0</text><text x="47.6" y="646.44" text-anchor="end" style="font-size:16px">0.5</text><text x="47.6" y="542.27" text-anchor="end" style="font-size:16px">1.0</text><text x="47.6" y="438.10" text-anchor="end" style="font-size:16px">1.5</text>
<text transform="translate(74.16,752.6) rotate(-90)" text-anchor="end" style="font-size:10.9px;stroke-width:0.12px">at3g51600_LTP5</text><text transform="translate(108.69,752.6) rotate(-90)" text-anchor="end" style="font-size:10.9px;stroke-width:0.12px">at3g18280_85</text><text transform="translate(143.21,752.6) rotate(-90)" text-anchor="end" style="font-size:10.9px;stroke-width:0.12px">SCA1</text><text transform="translate(177.74,752.6) rotate(-90)" text-anchor="end" style="font-size:10.9px;stroke-width:0.12px">SCA3</text><text transform="translate(212.26,752.6) rotate(-90)" text-anchor="end" style="font-size:10.9px;stroke-width:0.12px">at2g15050_50</text><text transform="translate(246.79,752.6) rotate(-90)" text-anchor="end" style="font-size:10.9px;stroke-width:0.12px">at5g01870_3</text><text transform="translate(281.31,752.6) rotate(-90)" text-anchor="end" style="font-size:10.9px;stroke-width:0.12px">Tob_LTP2</text><text transform="translate(315.84,752.6) rotate(-90)" text-anchor="end" style="font-size:10.9px;stroke-width:0.12px">1MZL</text><text transform="translate(350.36,752.6) rotate(-90)" text-anchor="end" style="font-size:10.9px;stroke-width:0.12px">at5g59310_LTP4</text><text transform="translate(384.89,752.6) rotate(-90)" text-anchor="end" style="font-size:10.9px;stroke-width:0.12px">at5g59320_LTP3</text><text transform="translate(419.41,752.6) rotate(-90)" text-anchor="end" style="font-size:10.9px;stroke-width:0.12px">at2g38530_LTP2</text><text transform="translate(453.94,752.6) rotate(-90)" text-anchor="end" style="font-size:10.9px;stroke-width:0.12px">at2g38540_LTP1</text><text transform="translate(488.46,752.6) rotate(-90)" text-anchor="end" style="font-size:10.9px;stroke-width:0.12px">at1g48750_5</text><text transform="translate(522.99,752.6) rotate(-90)" text-anchor="end" style="font-size:10.9px;stroke-width:0.12px">at4g33355_88</text><text transform="translate(557.51,752.6) rotate(-90)" text-anchor="end" style="font-size:10.9px;stroke-width:0.12px">at3g51590_53_LTP12</text><text transform="translate(592.04,752.6) rotate(-90)" text-anchor="end" style="font-size:10.9px;stroke-width:0.12px">at1g73780_101</text><text transform="translate(626.56,752.6) rotate(-90)" text-anchor="end" style="font-size:10.9px;stroke-width:0.12px">at3g08770_LTP6</text><text transform="translate(661.09,752.6) rotate(-90)" text-anchor="end" style="font-size:10.9px;stroke-width:0.12px">at2g18370_14</text><text transform="translate(695.61,752.6) rotate(-90)" text-anchor="end" style="font-size:10.9px;stroke-width:0.12px">at2g15325_27</text><text transform="translate(730.14,752.6) rotate(-90)" text-anchor="end" style="font-size:10.9px;stroke-width:0.12px">at4g28395_81</text>
<text transform="translate(13.6,544.4) rotate(-90)" text-anchor="middle" style="font-size:16px">ESD</text>
<text x="398.5" y="887.6" text-anchor="middle" style="font-size:16.4px">Family Members</text>
</svg></body></html>
